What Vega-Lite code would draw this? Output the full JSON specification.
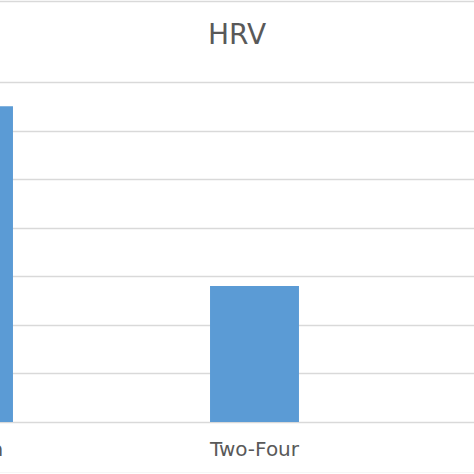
{
  "$schema": "https://vega.github.io/schema/vega-lite/v6.json",
  "autosize": {"type": "none"},
  "padding": {"top": 1, "left": 0, "right": 0, "bottom": 0},
  "width": 474,
  "height": 472,
  "background": "white",
  "title": {
    "text": "HRV",
    "anchor": "middle",
    "frame": "group",
    "fontSize": 28,
    "fontWeight": "normal",
    "font": "DejaVu Sans",
    "color": "#595959",
    "baseline": "alphabetic",
    "offset": -71
  },
  "config": {
    "view": {"stroke": null},
    "axis": {"gridColor": "#d9d9d9", "gridWidth": 1.5, "domainColor": "#d9d9d9", "domainWidth": 1.5}
  },
  "data": {
    "values": [
      {"group": "Six-Ten", "hrv": 65},
      {"group": "Two-Four", "hrv": 28},
      {"group": "Five-Six", "hrv": 40}
    ]
  },
  "layer": [
    {
      "mark": {"type": "bar", "color": "#5b9bd5", "clip": true},
      "encoding": {
        "x": {
          "field": "group",
          "type": "nominal",
          "sort": null,
          "scale": {"range": [-174.5, 683.5], "paddingInner": 0.689, "paddingOuter": 0.3445},
          "axis": {
            "orient": "bottom",
            "title": null,
            "values": ["Six-Ten", "Two-Four"],
            "labelAngle": 0,
            "ticks": false,
            "tickSize": 0,
            "labelPadding": -24,
            "labelBaseline": "middle",
            "labelFontSize": 20,
            "labelFont": "DejaVu Sans",
            "labelColor": "#595959",
            "labelOverlap": false,
            "labelBound": false,
            "domain": true
          }
        },
        "y": {
          "field": "hrv",
          "type": "quantitative",
          "scale": {"domain": [0, 70], "range": [421, 81], "nice": false, "zero": true},
          "axis": {
            "title": null,
            "values": [0, 10, 20, 30, 40, 50, 60, 70],
            "labels": false,
            "ticks": false,
            "domain": false,
            "grid": true
          }
        }
      }
    },
    {
      "mark": {"type": "bar", "color": "#5b9bd5", "clip": true, "opacity": 0},
      "encoding": {
        "x": {
          "field": "group",
          "type": "nominal",
          "sort": null,
          "axis": {
            "orient": "top",
            "title": null,
            "labels": false,
            "ticks": false,
            "domain": true,
            "grid": false
          }
        },
        "y": {"field": "hrv", "type": "quantitative"}
      }
    }
  ]
}
